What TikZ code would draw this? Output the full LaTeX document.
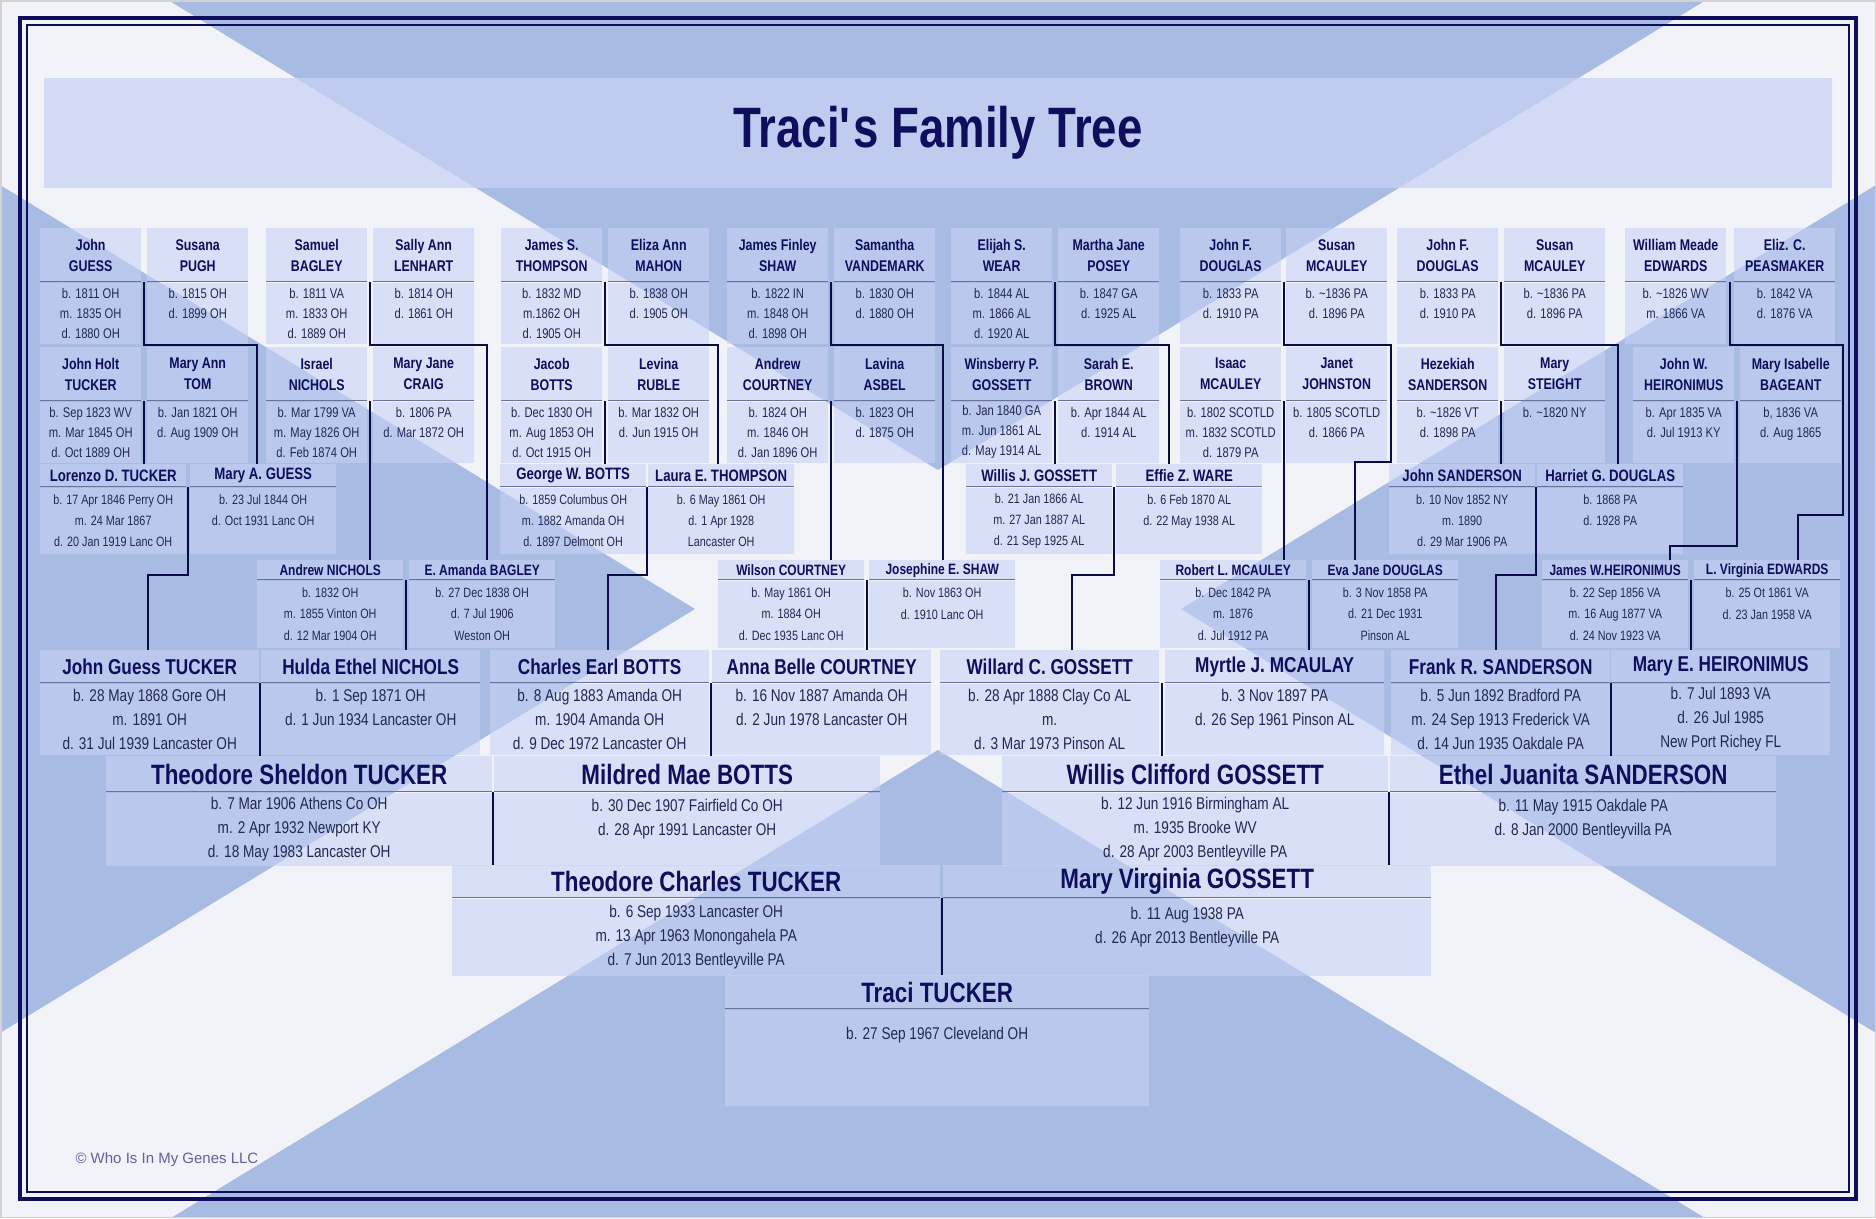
\documentclass[tikz,border=0pt]{standalone}
\usepackage{fontspec}
\setmainfont{Liberation Sans}[FakeStretch=0.8]
\newfontfamily\widefont{Liberation Sans}
\usepackage{tikz}
\usetikzlibrary{positioning,calc}

\definecolor{navy}{RGB}{14,14,92}
\definecolor{datatext}{RGB}{34,40,84}
\definecolor{saltire}{RGB}{168,187,226}
\definecolor{paper}{RGB}{241,243,248}
\definecolor{cell}{RGB}{200,210,245}
\definecolor{rule}{RGB}{104,114,156}
\definecolor{wire}{RGB}{10,12,72}

\begin{document}
\begin{tikzpicture}[
    x=1pt, y=-1pt,
    hd/.style={anchor=north west, fill=cell, fill opacity=0.6, text opacity=1, text=navy, inner sep=0pt, align=center,
      path picture={\draw[rule, line width=1.6pt] ([yshift=0.8pt]path picture bounding box.south west) -- ([yshift=0.8pt]path picture bounding box.south east);}},
    dat/.style={fill=cell, fill opacity=0.6, text opacity=1, text=datatext, inner sep=0pt, align=center},
    hdA/.style={hd, minimum width=101pt, minimum height=54pt, font=\bfseries\fontsize{15.5}{21}\selectfont},
    dA/.style={dat, minimum width=101pt, minimum height=61pt, font=\fontsize{14}{20}\selectfont},
    hdC/.style={hd, minimum width=146pt, minimum height=23pt, font=\bfseries\fontsize{16.5}{18}\selectfont},
    dC/.style={dat, minimum width=146pt, minimum height=66pt, font=\fontsize{13.5}{21}\selectfont},
    hdD/.style={hd, minimum width=146pt, minimum height=20pt, font=\bfseries\fontsize{15}{17}\selectfont},
    dD/.style={dat, minimum width=146pt, minimum height=67pt, font=\fontsize{13.5}{21.5}\selectfont},
    hdE/.style={hd, minimum width=219pt, minimum height=33pt, font=\bfseries\fontsize{21.5}{24}\selectfont},
    dE/.style={dat, minimum width=219pt, minimum height=71pt, font=\fontsize{17}{24}\selectfont},
    hdF/.style={hd, minimum width=386pt, minimum height=36pt, font=\bfseries\fontsize{28}{30}\selectfont},
    dF/.style={dat, minimum width=386pt, minimum height=73pt, font=\fontsize{17}{24}\selectfont},
    hdG/.style={hd, minimum width=488pt, minimum height=33pt, font=\bfseries\fontsize{28}{30}\selectfont},
    dG/.style={dat, minimum width=488pt, minimum height=77pt, font=\fontsize{17}{24}\selectfont},
    hdH/.style={hd, minimum width=424pt, minimum height=34pt, font=\bfseries\fontsize{28}{30}\selectfont},
    dH/.style={dat, minimum width=424pt, minimum height=96pt, font=\fontsize{17}{24}\selectfont},
    titlebar/.style={fill=cell, fill opacity=0.75, text opacity=1, text=navy, inner sep=0pt, minimum width=1788pt, minimum height=110pt, font=\bfseries\fontsize{57}{60}\selectfont},
    link/.style={draw=wire, line width=2.2pt}
]
\useasboundingbox (0,0) rectangle (1876,1218);

% backdrop
\fill[paper] (0,0) rectangle (1876,1218);
\fill[saltire] (168,0) -- (1706,0) -- (938,470) -- cycle;
\fill[saltire] (0,185) -- (695,609) -- (0,1033) -- cycle;
\fill[saltire] (1876,185) -- (1181,609) -- (1876,1033) -- cycle;
\fill[saltire] (171,1218) -- (1705,1218) -- (938,750) -- cycle;
\draw[gray!35, line width=1.5pt] (0.75,0.75) rectangle (1875.25,1217.25);
\draw[navy, line width=4pt] (20,18) rectangle (1856,1199);
\draw[navy, line width=1.5pt] (27,25) rectangle (1849,1192);

\node[titlebar] (title) at (938,133) {Traci\textquotesingle s Family Tree};
\node[anchor=west, text=gray!75!blue, font=\widefont\fontsize{15}{18}\selectfont] (copyr) at (72,1160) {\textcopyright\ Who Is In My Genes LLC};

% row 1
\node[hdA] (jguess) at (40,228) {John\\GUESS};
\node[dA, below=0pt of jguess] (jguessd) {b. 1811 OH\\m. 1835 OH\\d. 1880 OH};
\node[hdA] (spugh) at (147,228) {Susana\\PUGH};
\node[dA, below=0pt of spugh] (spughd) {b. 1815 OH\\d. 1899 OH\\~};
\node[hdA] (sbagley) at (266,228) {Samuel\\BAGLEY};
\node[dA, below=0pt of sbagley] (sbagleyd) {b. 1811 VA\\m. 1833 OH\\d. 1889 OH};
\node[hdA] (slenhart) at (373,228) {Sally Ann\\LENHART};
\node[dA, below=0pt of slenhart] (slenhartd) {b. 1814 OH\\d. 1861 OH\\~};
\node[hdA] (jthompson) at (501,228) {James S.\\THOMPSON};
\node[dA, below=0pt of jthompson] (jthompsond) {b. 1832 MD\\m.1862 OH\\d. 1905 OH};
\node[hdA] (emahon) at (608,228) {Eliza Ann\\MAHON};
\node[dA, below=0pt of emahon] (emahond) {b. 1838 OH\\d. 1905 OH\\~};
\node[hdA] (jfshaw) at (727,228) {James Finley\\SHAW};
\node[dA, below=0pt of jfshaw] (jfshawd) {b. 1822 IN\\m. 1848 OH\\d. 1898 OH};
\node[hdA] (svandemark) at (834,228) {Samantha\\VANDEMARK};
\node[dA, below=0pt of svandemark] (svandemarkd) {b. 1830 OH\\d. 1880 OH\\~};
\node[hdA] (eswear) at (951,228) {Elijah S.\\WEAR};
\node[dA, below=0pt of eswear] (esweard) {b. 1844 AL\\m. 1866 AL\\d. 1920 AL};
\node[hdA] (mjposey) at (1058,228) {Martha Jane\\POSEY};
\node[dA, below=0pt of mjposey] (mjposeyd) {b. 1847 GA\\d. 1925 AL\\~};
\node[hdA] (jfdouglasa) at (1180,228) {John F.\\DOUGLAS};
\node[dA, below=0pt of jfdouglasa] (jfdouglasad) {b. 1833 PA\\d. 1910 PA\\~};
\node[hdA] (smcauleya) at (1286,228) {Susan\\MCAULEY};
\node[dA, below=0pt of smcauleya] (smcauleyad) {b. \textasciitilde1836 PA\\d. 1896 PA\\~};
\node[hdA] (jfdouglasb) at (1397,228) {John F.\\DOUGLAS};
\node[dA, below=0pt of jfdouglasb] (jfdouglasbd) {b. 1833 PA\\d. 1910 PA\\~};
\node[hdA] (smcauleyb) at (1504,228) {Susan\\MCAULEY};
\node[dA, below=0pt of smcauleyb] (smcauleybd) {b. \textasciitilde1836 PA\\d. 1896 PA\\~};
\node[hdA] (wmedwards) at (1625,228) {William Meade\\EDWARDS};
\node[dA, below=0pt of wmedwards] (wmedwardsd) {b. \textasciitilde1826 WV\\m. 1866 VA\\~};
\node[hdA] (ecpeasmaker) at (1734,228) {Eliz. C.\\PEASMAKER};
\node[dA, below=0pt of ecpeasmaker] (ecpeasmakerd) {b. 1842 VA\\d. 1876 VA\\~};

% row 2
\node[hdA] (jhtucker) at (40,347) {John Holt\\TUCKER};
\node[dA, below=0pt of jhtucker] (jhtuckerd) {b. Sep 1823 WV\\m. Mar 1845 OH\\d. Oct 1889 OH};
\node[hdA] (matom) at (147,347) {Mary Ann\\TOM};
\node[dA, below=0pt of matom] (matomd) {b. Jan 1821 OH\\d. Aug 1909 OH\\~};
\node[hdA] (inichols) at (266,347) {Israel\\NICHOLS};
\node[dA, below=0pt of inichols] (inicholsd) {b. Mar 1799 VA\\m. May 1826 OH\\d. Feb 1874 OH};
\node[hdA] (mjcraig) at (373,347) {Mary Jane\\CRAIG};
\node[dA, below=0pt of mjcraig] (mjcraigd) {b. 1806 PA\\d. Mar 1872 OH\\~};
\node[hdA] (jbotts) at (501,347) {Jacob\\BOTTS};
\node[dA, below=0pt of jbotts] (jbottsd) {b. Dec 1830 OH\\m. Aug 1853 OH\\d. Oct 1915 OH};
\node[hdA] (lruble) at (608,347) {Levina\\RUBLE};
\node[dA, below=0pt of lruble] (lrubled) {b. Mar 1832 OH\\d. Jun 1915 OH\\~};
\node[hdA] (acourtney) at (727,347) {Andrew\\COURTNEY};
\node[dA, below=0pt of acourtney] (acourtneyd) {b. 1824 OH\\m. 1846 OH\\d. Jan 1896 OH};
\node[hdA] (lasbel) at (834,347) {Lavina\\ASBEL};
\node[dA, below=0pt of lasbel] (lasbeld) {b. 1823 OH\\d. 1875 OH\\~};
\node[hdA] (wpgossett) at (951,347) {Winsberry P.\\GOSSETT};
\node[dA, below=0pt of wpgossett] (wpgossettd) {b. Jan 1840 GA\\m. Jun 1861 AL\\d. May 1914 AL};
\node[hdA] (sebrown) at (1058,347) {Sarah E.\\BROWN};
\node[dA, below=0pt of sebrown] (sebrownd) {b. Apr 1844 AL\\d. 1914 AL\\~};
\node[hdA] (imcauley) at (1180,347) {Isaac\\MCAULEY};
\node[dA, below=0pt of imcauley] (imcauleyd) {b. 1802 SCOTLD\\m. 1832 SCOTLD\\d. 1879 PA};
\node[hdA] (jjohnston) at (1286,347) {Janet\\JOHNSTON};
\node[dA, below=0pt of jjohnston] (jjohnstond) {b. 1805 SCOTLD\\d. 1866 PA\\~};
\node[hdA] (hsanderson) at (1397,347) {Hezekiah\\SANDERSON};
\node[dA, below=0pt of hsanderson] (hsandersond) {b. \textasciitilde1826 VT\\d. 1898 PA\\~};
\node[hdA] (msteight) at (1504,347) {Mary\\STEIGHT};
\node[dA, below=0pt of msteight] (msteightd) {b. \textasciitilde1820 NY\\~\\~};
\node[hdA] (jwheironimus) at (1633,347) {John W.\\HEIRONIMUS};
\node[dA, below=0pt of jwheironimus] (jwheironimusd) {b. Apr 1835 VA\\d. Jul 1913 KY\\~};
\node[hdA] (mibageant) at (1740,347) {Mary Isabelle\\BAGEANT};
\node[dA, below=0pt of mibageant] (mibageantd) {b, 1836 VA\\d. Aug 1865\\~};

% row 3
\node[hdC] (ldtucker) at (40,464) {Lorenzo D. TUCKER};
\node[dC, below=0pt of ldtucker] (ldtuckerd) {b. 17 Apr 1846 Perry OH\\m. 24 Mar 1867\\d. 20 Jan 1919 Lanc OH};
\node[hdC] (maguess) at (190,464) {Mary A. GUESS};
\node[dC, below=0pt of maguess] (maguessd) {b. 23 Jul 1844 OH\\d. Oct 1931 Lanc OH\\~};
\node[hdC] (gwbotts) at (500,464) {George W. BOTTS};
\node[dC, below=0pt of gwbotts] (gwbottsd) {b. 1859 Columbus OH\\m. 1882 Amanda OH\\d. 1897 Delmont OH};
\node[hdC] (lethompson) at (648,464) {Laura E. THOMPSON};
\node[dC, below=0pt of lethompson] (lethompsond) {b. 6 May 1861 OH\\d. 1 Apr 1928\\Lancaster OH};
\node[hdC] (wjgossett) at (966,464) {Willis J. GOSSETT};
\node[dC, below=0pt of wjgossett] (wjgossettd) {b. 21 Jan 1866 AL\\m. 27 Jan 1887 AL\\d. 21 Sep 1925 AL};
\node[hdC] (ezware) at (1116,464) {Effie Z. WARE};
\node[dC, below=0pt of ezware] (ezwared) {b. 6 Feb 1870 AL\\d. 22 May 1938 AL\\~};
\node[hdC] (jsanderson) at (1389,464) {John SANDERSON};
\node[dC, below=0pt of jsanderson] (jsandersond) {b. 10 Nov 1852 NY\\m. 1890\\d. 29 Mar 1906 PA};
\node[hdC] (hgdouglas) at (1537,464) {Harriet G. DOUGLAS};
\node[dC, below=0pt of hgdouglas] (hgdouglasd) {b. 1868 PA\\d. 1928 PA\\~};

% row 4
\node[hdD] (anichols) at (257,560) {Andrew NICHOLS};
\node[dD, below=0pt of anichols] (anicholsd) {b. 1832 OH\\m. 1855 Vinton OH\\d. 12 Mar 1904 OH};
\node[hdD] (eabagley) at (409,560) {E. Amanda BAGLEY};
\node[dD, below=0pt of eabagley] (eabagleyd) {b. 27 Dec 1838 OH\\d. 7 Jul 1906\\Weston OH};
\node[hdD] (wcourtney) at (718,560) {Wilson COURTNEY};
\node[dD, below=0pt of wcourtney] (wcourtneyd) {b. May 1861 OH\\m. 1884 OH\\d. Dec 1935 Lanc OH};
\node[hdD] (jeshaw) at (869,560) {Josephine E. SHAW};
\node[dD, below=0pt of jeshaw] (jeshawd) {b. Nov 1863 OH\\d. 1910 Lanc OH\\~};
\node[hdD] (rlmcauley) at (1160,560) {Robert L. MCAULEY};
\node[dD, below=0pt of rlmcauley] (rlmcauleyd) {b. Dec 1842 PA\\m. 1876\\d. Jul 1912 PA};
\node[hdD] (ejdouglas) at (1312,560) {Eva Jane DOUGLAS};
\node[dD, below=0pt of ejdouglas] (ejdouglasd) {b. 3 Nov 1858 PA\\d. 21 Dec 1931\\Pinson AL};
\node[hdD] (jwheir) at (1542,560) {James W.HEIRONIMUS};
\node[dD, below=0pt of jwheir] (jwheird) {b. 22 Sep 1856 VA\\m. 16 Aug 1877 VA\\d. 24 Nov 1923 VA};
\node[hdD] (lvedwards) at (1694,560) {L. Virginia EDWARDS};
\node[dD, below=0pt of lvedwards] (lvedwardsd) {b. 25 Ot 1861 VA\\d. 23 Jan 1958 VA\\~};

% row 5
\node[hdE] (jgtucker) at (40,650) {John Guess TUCKER};
\node[dE, below=0pt of jgtucker] (jgtuckerd) {b. 28 May 1868 Gore OH\\m. 1891 OH\\d. 31 Jul 1939 Lancaster OH};
\node[hdE] (henichols) at (261,650) {Hulda Ethel NICHOLS};
\node[dE, below=0pt of henichols] (henicholsd) {b. 1 Sep 1871 OH\\d. 1 Jun 1934 Lancaster OH\\~};
\node[hdE] (cebotts) at (490,650) {Charles Earl BOTTS};
\node[dE, below=0pt of cebotts] (cebottsd) {b. 8 Aug 1883 Amanda OH\\m. 1904 Amanda OH\\d. 9 Dec 1972 Lancaster OH};
\node[hdE] (abcourtney) at (712,650) {Anna Belle COURTNEY};
\node[dE, below=0pt of abcourtney] (abcourtneyd) {b. 16 Nov 1887 Amanda OH\\d. 2 Jun 1978 Lancaster OH\\~};
\node[hdE] (wcgossett) at (940,650) {Willard C. GOSSETT};
\node[dE, below=0pt of wcgossett] (wcgossettd) {b. 28 Apr 1888 Clay Co AL\\m.\\d. 3 Mar 1973 Pinson AL};
\node[hdE] (mjmcaulay) at (1165,650) {Myrtle J. MCAULAY};
\node[dE, below=0pt of mjmcaulay] (mjmcaulayd) {b. 3 Nov 1897 PA\\d. 26 Sep 1961 Pinson AL\\~};
\node[hdE] (frsanderson) at (1391,650) {Frank R. SANDERSON};
\node[dE, below=0pt of frsanderson] (frsandersond) {b. 5 Jun 1892 Bradford PA\\m. 24 Sep 1913 Frederick VA\\d. 14 Jun 1935 Oakdale PA};
\node[hdE] (meheironimus) at (1611,650) {Mary E. HEIRONIMUS};
\node[dE, below=0pt of meheironimus] (meheironimusd) {b. 7 Jul 1893 VA\\d. 26 Jul 1985\\New Port Richey FL};

% row 6
\node[hdF] (tstucker) at (106,756) {Theodore Sheldon TUCKER};
\node[dF, below=0pt of tstucker] (tstuckerd) {b. 7 Mar 1906 Athens Co OH\\m. 2 Apr 1932 Newport KY\\d. 18 May 1983 Lancaster OH};
\node[hdF] (mmbotts) at (494,756) {Mildred Mae BOTTS};
\node[dF, below=0pt of mmbotts] (mmbottsd) {b. 30 Dec 1907 Fairfield Co OH\\d. 28 Apr 1991 Lancaster OH\\~};
\node[hdF] (wclgossett) at (1002,756) {Willis Clifford GOSSETT};
\node[dF, below=0pt of wclgossett] (wclgossettd) {b. 12 Jun 1916 Birmingham AL\\m. 1935 Brooke WV\\d. 28 Apr 2003 Bentleyville PA};
\node[hdF] (ejsanderson) at (1390,756) {Ethel Juanita SANDERSON};
\node[dF, below=0pt of ejsanderson] (ejsandersond) {b. 11 May 1915 Oakdale PA\\d. 8 Jan 2000 Bentleyvilla PA\\~};

% row 7 and 8
\node[hdG] (tctucker) at (452,865) {Theodore Charles TUCKER};
\node[dG, below=0pt of tctucker] (tctuckerd) {b. 6 Sep 1933 Lancaster OH\\m. 13 Apr 1963 Monongahela PA\\d. 7 Jun 2013 Bentleyville PA};
\node[hdG] (mvgossett) at (943,865) {Mary Virginia GOSSETT};
\node[dG, below=0pt of mvgossett] (mvgossettd) {b. 11 Aug 1938 PA\\d. 26 Apr 2013 Bentleyville PA\\~};
\node[hdH] (ttucker) at (725,975) {Traci TUCKER};
\node[dH, below=0pt of ttucker] (ttuckerd) {b. 27 Sep 1967 Cleveland OH\\~\\~};

% bends
\coordinate (jA1) at (257,345);
\coordinate (jA2) at (487,345);
\coordinate (jA3) at (718,345);
\coordinate (jA4) at (943,345);
\coordinate (jA5) at (1169,345);
\coordinate (jA6) at (1391,345);
\coordinate (jA6b) at (1355,462);
\coordinate (jA7) at (1618,345);
\coordinate (jA8) at (1843,345);
\coordinate (jA8b) at (1798,515);
\coordinate (jB8) at (1670,546);
\coordinate (jC1) at (148,575);
\coordinate (jC2) at (608,575);
\coordinate (jC3) at (1072,575);
\coordinate (jC4) at (1496,575);

\draw[link] ($(jguess.south east)!.5!(spugh.south west)$) |- (jA1) -- (jA1 |- maguess.north);
\draw[link] ($(sbagley.south east)!.5!(slenhart.south west)$) |- (jA2) -- (jA2 |- eabagley.north);
\draw[link] ($(jthompson.south east)!.5!(emahon.south west)$) |- (jA3) -- (jA3 |- lethompson.north);
\draw[link] ($(jfshaw.south east)!.5!(svandemark.south west)$) |- (jA4) -- (jA4 |- jeshaw.north);
\draw[link] ($(eswear.south east)!.5!(mjposey.south west)$) |- (jA5) -- (jA5 |- ezware.north);
\draw[link] ($(jfdouglasa.south east)!.5!(smcauleya.south west)$) |- (jA6) |- (jA6b) -- (jA6b |- ejdouglas.north);
\draw[link] ($(jfdouglasb.south east)!.5!(smcauleyb.south west)$) |- (jA7) -- (jA7 |- hgdouglas.north);
\draw[link] ($(wmedwards.south east)!.5!(ecpeasmaker.south west)$) |- (jA8) |- (jA8b) -- (jA8b |- lvedwards.north);

\draw[link] ($(jhtucker.south east)!.5!(matom.south west)$) coordinate (mB1) -- (mB1 |- ldtucker.north);
\draw[link] ($(inichols.south east)!.5!(mjcraig.south west)$) coordinate (mB2) -- (mB2 |- anichols.north);
\draw[link] ($(jbotts.south east)!.5!(lruble.south west)$) coordinate (mB3) -- (mB3 |- gwbotts.north);
\draw[link] ($(acourtney.south east)!.5!(lasbel.south west)$) coordinate (mB4) -- (mB4 |- wcourtney.north);
\draw[link] ($(wpgossett.south east)!.5!(sebrown.south west)$) coordinate (mB5) -- (mB5 |- wjgossett.north);
\draw[link] ($(imcauley.south east)!.5!(jjohnston.south west)$) coordinate (mB6) -- (mB6 |- rlmcauley.north);
\draw[link] ($(hsanderson.south east)!.5!(msteight.south west)$) coordinate (mB7) -- (mB7 |- jsanderson.north);
\draw[link] ($(jwheironimus.south east)!.5!(mibageant.south west)$) |- (jB8) -- (jB8 |- jwheir.north);

\draw[link] ($(ldtucker.south east)!.5!(maguess.south west)$) |- (jC1) -- (jC1 |- jgtucker.north);
\draw[link] ($(gwbotts.south east)!.5!(lethompson.south west)$) |- (jC2) -- (jC2 |- cebotts.north);
\draw[link] ($(wjgossett.south east)!.5!(ezware.south west)$) |- (jC3) -- (jC3 |- wcgossett.north);
\draw[link] ($(jsanderson.south east)!.5!(hgdouglas.south west)$) |- (jC4) -- (jC4 |- frsanderson.north);

\draw[link] ($(anichols.south east)!.5!(eabagley.south west)$) coordinate (mD1) -- (mD1 |- henichols.north);
\draw[link] ($(wcourtney.south east)!.5!(jeshaw.south west)$) coordinate (mD2) -- (mD2 |- abcourtney.north);
\draw[link] ($(rlmcauley.south east)!.5!(ejdouglas.south west)$) coordinate (mD3) -- (mD3 |- mjmcaulay.north);
\draw[link] ($(jwheir.south east)!.5!(lvedwards.south west)$) coordinate (mD4) -- (mD4 |- meheironimus.north);

\draw[link] ($(jgtucker.south east)!.5!(henichols.south west)$) coordinate (mE1) -- (mE1 |- tstucker.north);
\draw[link] ($(cebotts.south east)!.5!(abcourtney.south west)$) coordinate (mE2) -- (mE2 |- mmbotts.north);
\draw[link] ($(wcgossett.south east)!.5!(mjmcaulay.south west)$) coordinate (mE3) -- (mE3 |- wclgossett.north);
\draw[link] ($(frsanderson.south east)!.5!(meheironimus.south west)$) coordinate (mE4) -- (mE4 |- ejsanderson.north);

\draw[link] ($(tstucker.south east)!.5!(mmbotts.south west)$) coordinate (mF1) -- (mF1 |- tctucker.north);
\draw[link] ($(wclgossett.south east)!.5!(ejsanderson.south west)$) coordinate (mF2) -- (mF2 |- mvgossett.north);
\draw[link] ($(tctucker.south east)!.5!(mvgossett.south west)$) coordinate (mG1) -- (mG1 |- ttucker.north);
\end{tikzpicture}
\end{document}
